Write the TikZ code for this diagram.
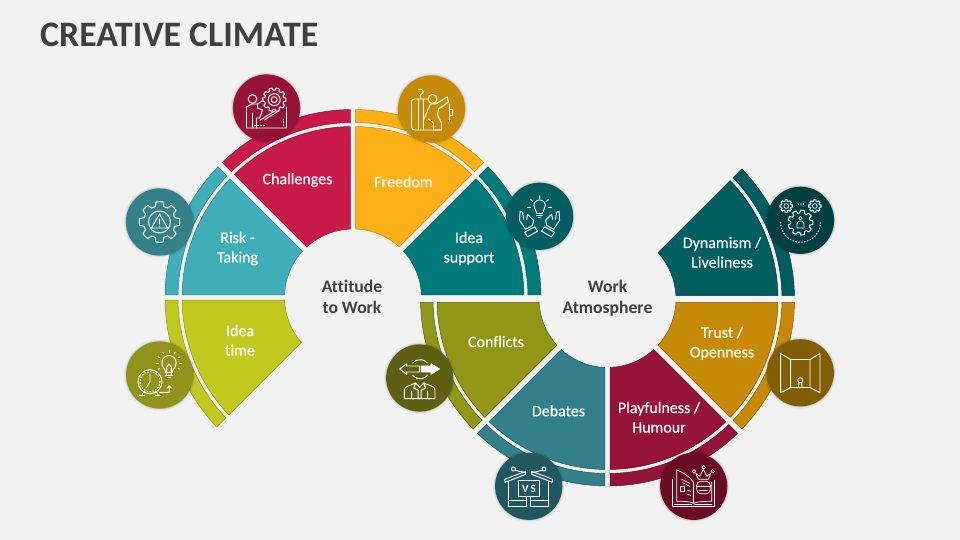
\documentclass[tikz,border=0pt]{standalone}
\usepackage{fontspec}
\setmainfont{Carlito}[Ligatures=NoCommon]
\newfontfamily\lblfont{Carlito}[Ligatures=NoCommon,FakeBold=0.25]
\definecolor{bg}{HTML}{F2F2F2}
\definecolor{ttl}{HTML}{404040}
\definecolor{cA}{HTML}{C81A49}\definecolor{dcA}{HTML}{961236}
\definecolor{cB}{HTML}{FBB016}\definecolor{dcB}{HTML}{C58A07}
\definecolor{cC}{HTML}{007A7B}\definecolor{dcC}{HTML}{005E60}
\definecolor{cD}{HTML}{3FAEB7}\definecolor{dcD}{HTML}{34818A}
\definecolor{cE}{HTML}{C1C91F}\definecolor{dcE}{HTML}{8F931A}
\definecolor{cF}{HTML}{919617}\definecolor{dcF}{HTML}{5E6011}
\definecolor{cG}{HTML}{34808A}\definecolor{dcG}{HTML}{215860}
\definecolor{cH}{HTML}{951338}\definecolor{dcH}{HTML}{690C24}
\definecolor{cI}{HTML}{C68A06}\definecolor{dcI}{HTML}{825D04}
\definecolor{cJ}{HTML}{005E60}\definecolor{dcJ}{HTML}{003F42}
\tikzset{
  lbl/.style={text=white,align=center,font=\fontsize{16}{19.6}\lblfont\selectfont,inner sep=0pt},
  hub/.style={text=ttl,align=center,font=\fontsize{17.6}{20.6}\selectfont\bfseries,inner sep=0pt},
  ico/.style={draw=white,line width=.95pt,line join=round,line cap=round},
}
% sector: centre x,y; angle a,b; gaps ga,gb; r1,r2; colour
\newcommand\sect[9]{%
  \pgfmathsetmacro\sa{#3+asin(#5/#8)}%
  \pgfmathsetmacro\sb{#4-asin(#6/#8)}%
  \pgfmathsetmacro\ia{#3+asin(#5/#7)}%
  \pgfmathsetmacro\ib{#4-asin(#6/#7)}%
  \begin{scope}[shift={(#1,#2)}]
  \filldraw[fill=#9,draw=d#9,line width=.5pt,line join=miter] (\sa:#8) arc[start angle=\sa,end angle=\sb,radius=#8pt] -- (\ib:#7) arc[start angle=\ib,end angle=\ia,radius=#7pt] -- cycle;
  \end{scope}}
\def\rS{171}\def\rB{175}\def\rO{188}
\newcommand\wdg[7]{% cx cy a b ga gb colour
  \sect{#1}{#2}{#3}{#4}{#5}{#6}{68.5}{\rS}{#7}%
  \sect{#1}{#2}{#3}{#4}{#5}{#6}{\rB}{\rO}{#7}}
\newcommand\disc[3]{% x y(image) colour
  \foreach \rr/\op in {36/.03,35/.05,34.3/.08}{\fill[black,opacity=\op] (#1,540-#2) circle[radius=\rr pt];}
  \fill[d#3] (#1,540-#2) circle[radius=33.6pt];}
\newcommand\gearic[3]{% outer inner teeth
  \draw[ico] (0:#1)
  \foreach \i in {1,...,#3}{ -- ({(\i-1)*360/#3+360/#3*.22}:#1) -- ({(\i-1)*360/#3+360/#3*.34}:#2) -- ({\i*360/#3-360/#3*.34}:#2) -- ({\i*360/#3-360/#3*.22}:#1) -- ({\i*360/#3}:#1)} -- cycle;}
\newcommand\bulbic{%
  \draw[ico] (-3,6) .. controls (-3,3) and (-6.5,1) .. (-6.5,-3) arc[start angle=180,end angle=360,radius=6.5pt] .. controls (6.5,1) and (3,3) .. (3,6) -- cycle;
  \draw[ico] (-3,8.5) -- (3,8.5) (-1.5,10.5) -- (1.5,10.5);}
\begin{document}
\begin{tikzpicture}[x=1pt,y=1pt]
\useasboundingbox (0,0) rectangle (960,540);
\fill[bg] (0,0) rectangle (960,540);
\node[anchor=west,inner sep=0pt,text=ttl,font=\fontsize{35.8}{40}\selectfont\bfseries] (title) at (40,505) {CREATIVE CLIMATE};

% left ring
\wdg{353}{242.5}{180}{225}{2.7}{4.7}{cE}
\wdg{353}{242.5}{135}{180}{3}{2.7}{cD}
\wdg{353}{242.5}{90}{135}{2.7}{3}{cA}
\wdg{353}{242.5}{45}{90}{3}{2.7}{cB}
\wdg{353}{242.5}{0}{45}{2.7}{3}{cC}
% right ring
\def\rS{170.5}\def\rB{174.5}\def\rO{187}
\wdg{607.5}{241}{180}{225}{3.3}{3}{cF}
\wdg{607.5}{241}{225}{270}{3}{2.7}{cG}
\wdg{607.5}{241}{270}{315}{2.7}{3}{cH}
\wdg{607.5}{241}{315}{360}{3}{3.3}{cI}
\wdg{607.5}{241}{0}{45}{3.3}{3}{cJ}

% labels
\node[lbl] (t1) at (297.5,360) {Challenges};
\node[lbl] (t2) at (403.5,358.4) {Freedom};
\node[lbl] (t3) at (469,291.5) {Idea\\support};
\node[lbl] (t4) at (237.5,291.5) {Risk -\\Taking};
\node[lbl] (t5) at (240,199.7) {Idea\\time};
\node[lbl] (t6) at (496,198.4) {Conflicts};
\node[lbl] (t7) at (558.5,129.2) {Debates};
\node[lbl] (t8) at (659,122.7) {Playfulness /\\Humour};
\node[lbl] (t9) at (722,196.7) {Trust /\\Openness};
\node[lbl] (t10) at (722,287.7) {Dynamism /\\Liveliness};
\node[hub] (h1) at (352,243) {Attitude\\to Work};
\node[hub] (h2) at (607.5,241.5) {Work\\Atmosphere};

% Challenges icon
\disc{266.5}{108}{cA}
\begin{scope}[shift={(266.5,432)},yscale=-1]
\begin{scope}[shift={(7.7,-8.3)}]
\gearic{11.8}{9.6}{10}
\draw[ico] (0,0) circle[radius=6pt] (0,0) circle[radius=3pt];
\end{scope}
\draw[ico] (-14,-9) circle[radius=4.3pt];
\draw[ico] (-3,-8) -- (-9,-4) -- (-14.5,-4) -- (-20,-1) -- (-20,20) -- (20,20) -- (20,-1);
\draw[ico] (-9,-4) -- (-9,0) -- (-4,2) -- (-7,10) -- (-10,10) -- (-10,20);
\draw[ico] (-14,5) -- (-14,20);
\draw[ico] (-6,12) -- (8,3) (-2,12) -- (12,3);
\draw[ico,dotted] (-12,17) -- (-2,17) (17,11) -- (17,18);
\end{scope}

% Risk icon
\disc{159.5}{222}{cD}
\begin{scope}[shift={(159.5,318)},yscale=-1]
\gearic{20.3}{16}{8}
\draw[ico] (0,0) circle[radius=11pt];
\draw[ico] (0,-8) -- (8,6) -- (-8,6) -- cycle;
\draw[ico] (0,-3) -- (0,2) (0,4) -- (0,4.2);
\end{scope}

% Freedom icon
\disc{431.5}{109}{cB}
\begin{scope}[shift={(431.5,431)},yscale=-1]
\draw[ico,rounded corners=3pt] (-3,-10) -- (-20,-10) -- (-20,21) -- (10,21);
\draw[ico] (-13.3,-10) -- (-13.3,21) (-7.7,-10) -- (-7.7,21);
\draw[ico] (-11,-11) -- (-11,-14) -- (-8,-17) -- (-10,-20) -- (-13,-19);
\draw[ico] (1,-10) circle[radius=4.5pt];
\draw[ico] (-7.5,10) -- (-1,-5) -- (4,-5) -- (15.7,-12) -- (17,-7) -- (7,0) -- (6,6) -- (10,14) -- (10,21) -- (2,21) -- (2,14) -- (-3,10);
\draw[ico] (18,-5) -- (18,12) (18,0) -- (20.5,0) -- (20.5,6) -- (18,6);
\end{scope}

% Idea support icon
\disc{539.6}{216.3}{cC}
\begin{scope}[shift={(539.6,323.7)},yscale=-1]
\begin{scope}[shift={(0,-8)},scale=.88]\bulbic\end{scope}
\draw[ico] (0,-20.5) -- (0,-17.5) (-9,-17) -- (-7,-15) (9,-17) -- (7,-15) (-12,-9) -- (-9,-9) (12,-9) -- (9,-9);
\foreach \s in {1,-1}{
\begin{scope}[xscale=\s]
\draw[ico] (-17,-4) -- (-19.5,-5) -- (-20,4) -- (-14,13) -- (-7,9) -- (-6,4) -- (-12,-2) -- (-13,3) (-17,-4) -- (-16,3);
\draw[ico] (-15,16) -- (-12,20.5) -- (-2,15) -- (-5,10.5) -- cycle;
\end{scope}}
\end{scope}

% Idea time icon
\disc{159.7}{375}{cE}
\begin{scope}[shift={(159.7,165)},yscale=-1]
\draw[ico] (-9.7,6.7) circle[radius=12pt];
\draw[ico] (-9.7,6.7) -- (-9.7,-1) (-9.7,6.7) -- (-13.5,13);
\draw[ico,dotted] (-9.7,6.7) circle[radius=10pt];
\draw[ico] (-18,20) -- (-15,16) (-1.3,20) -- (-4,16) (-20,20.5) -- (-15,20.5) (-4,20.5) -- (1,20.5);
\begin{scope}[shift={(9.3,-9)},scale=1.1]\bulbic\end{scope}
\draw[ico] (7,0) -- (7,-8) -- (9.3,-11) -- (11.6,-8) -- (11.6,0);
\draw[ico] (0,17.3) -- (9.7,17.3) -- (9.7,11) (7.7,13) -- (9.7,11) -- (11.7,13);
\foreach \a in {150,180,210,240,270,300,330,0,30}{\draw[ico] ([shift={(9.3,-12)}]\a:10.5) -- ([shift={(9.3,-12)}]\a:12.5);}
\end{scope}

% Conflicts icon
\disc{419.7}{378}{cF}
\begin{scope}[shift={(419.7,162)},yscale=-1]
\draw[ico] (-7,-15) arc[start angle=220,end angle=320,radius=9.5pt];
\draw[ico] (-7,-2.5) arc[start angle=140,end angle=40,radius=9.5pt];
\draw[ico] (-20,-9) -- (-13,-14.3) -- (-13,-12) -- (0,-12) -- (0,-6) -- (-13,-6) -- (-13,-3.7) -- cycle;
\filldraw[ico,fill=white] (19.7,-9) -- (11.3,-14.3) -- (11.3,-12) -- (2,-12) -- (2,-6) -- (11.3,-6) -- (11.3,-3.7) -- cycle;
\draw[ico] (-15.3,20.7) -- (-15.3,12) .. controls (-15.3,8) and (-10,8) .. (-4,5) -- (0,9.5) -- (4,5) .. controls (10,8) and (15.3,8) .. (15.3,12) -- (15.3,20.7) -- cycle;
\draw[ico] (-8,13) -- (-8,20.7) (8,13) -- (8,20.7) (-1.5,12) -- (-1.5,20.7) (1.5,12) -- (1.5,20.7) (-4,5) -- (-6,10) -- (-2,12) (4,5) -- (6,10) -- (2,12);
\end{scope}

% Debates icon
\disc{528.7}{486.3}{cG}
\begin{scope}[shift={(528.7,53.7)},yscale=-1]
\foreach \s in {1,-1}{
\begin{scope}[xscale=\s]
\draw[ico] (-24,-7) -- (-3,-15) -- (-3,-12) -- (-23.5,-4) -- cycle;
\draw[ico] (-15.3,-17.3) circle[radius=2pt];
\draw[ico] (-13.5,-16) -- (-3,-13.5);
\draw[ico] (-20,-5) -- (-20,20) -- (-2,20) -- (-2,10.5);
\draw[ico] (-20,14.5) -- (-2,14.5);
\end{scope}}
\draw[ico] (-10.3,-5.7) rectangle (11,10.3);
\node[inner sep=0pt,text=white,font=\fontsize{11}{11}\selectfont\bfseries] (vs) at (0.3,2.5) {V\,S};
\end{scope}

% Playfulness icon
\disc{693.7}{486.3}{cH}
\begin{scope}[shift={(693.7,53.7)},yscale=-1]
\draw[ico,line width=.7pt] (-0.3,17) -- (-0.3,-4) .. controls (-4,-10) and (-11,-14) .. (-17,-16.5) -- (-17,15) .. controls (-11,15) and (-4,15) .. (-0.3,17);
\draw[ico,line width=.7pt] (-21.3,-7) -- (-21.3,20.3) -- (20.3,20.3) -- (20.3,-6);
\draw[ico,line width=.7pt] (-0.3,17) .. controls (5,15) and (14,15) .. (18,15) -- (18,-4);
\draw[ico,line width=.7pt] (-19,18) -- (-2,18) (1,18) -- (18,18);
\draw[ico,line width=.7pt] (-12,-7) -- (-4,-3) (-11,-3.5) -- (-4,0) (-6,4) -- (-3,5) (-6,8) -- (-3,9);
\draw[ico,line width=.7pt] (-13,0) rectangle (-9,5);
\draw[ico,line width=.7pt,rounded corners=4pt] (3,-5) rectangle (16.5,7.5);
\draw[ico,line width=.7pt] (3,0) -- (16.5,0) (6,4) -- (13.5,4);
\draw[ico,line width=.7pt] (4.7,-7) -- (2,-13) (14.7,-7) -- (17,-13) (2,-13) -- (6,-10) -- (9.7,-17) -- (13,-10) -- (17,-13) (4.7,-7) -- (14.7,-7);
\draw[ico,line width=.7pt] (0.3,-15) circle[radius=1.8pt] (10,-19) circle[radius=1.8pt] (19,-15) circle[radius=1.8pt];
\end{scope}

% Trust icon
\disc{800.3}{372.8}{cI}
\begin{scope}[shift={(800.3,167.2)},yscale=-1]
\draw[ico] (-19.7,-19.3) -- (-9.7,-13.3) -- (-9.7,14.7) -- (-19.7,20) -- cycle;
\draw[ico] (19.7,-19.3) -- (9.7,-13.3) -- (9.7,14.7) -- (19.7,20) -- cycle;
\draw[ico] (-9.7,-13.3) -- (9.7,-13.3) (-9.7,14.7) -- (9.7,14.7);
\draw[ico] (0,7.5) circle[radius=2.6pt] (-1.8,14.7) -- (-1.3,9.8) (1.8,14.7) -- (1.3,9.8);
\end{scope}

% Dynamism icon
\disc{800.5}{220.3}{cJ}
\begin{scope}[shift={(800.5,319.7)},yscale=-1]
\begin{scope}[shift={(0,2.3)}]\gearic{12.5}{9.8}{9}
\draw[ico,line width=.7pt] (0,-4.5) circle[radius=1.8pt];
\draw[ico,line width=.7pt] (-3.5,5.5) -- (-3.5,1) -- (-1.5,-1.5) -- (1.5,-1.5) -- (3.5,1) -- (3.5,5.5) -- cycle;
\end{scope}
\foreach \s in {-14.3,14.3}{
\begin{scope}[shift={(\s,-14.3)}]\gearic{6.3}{4.8}{8}
\draw[ico,line width=.7pt] (0,0) circle[radius=2.4pt];
\end{scope}}
\draw[ico,dotted] (20,2) arc[start angle=0,end angle=180,radius=20pt];
\draw[ico,line width=.7pt] (-2.5,-17) -- (-2,-15.5) (0.5,-17) -- (0.5,-15) (3,-17) -- (3,-15.5);
\end{scope}
\end{tikzpicture}
\end{document}
